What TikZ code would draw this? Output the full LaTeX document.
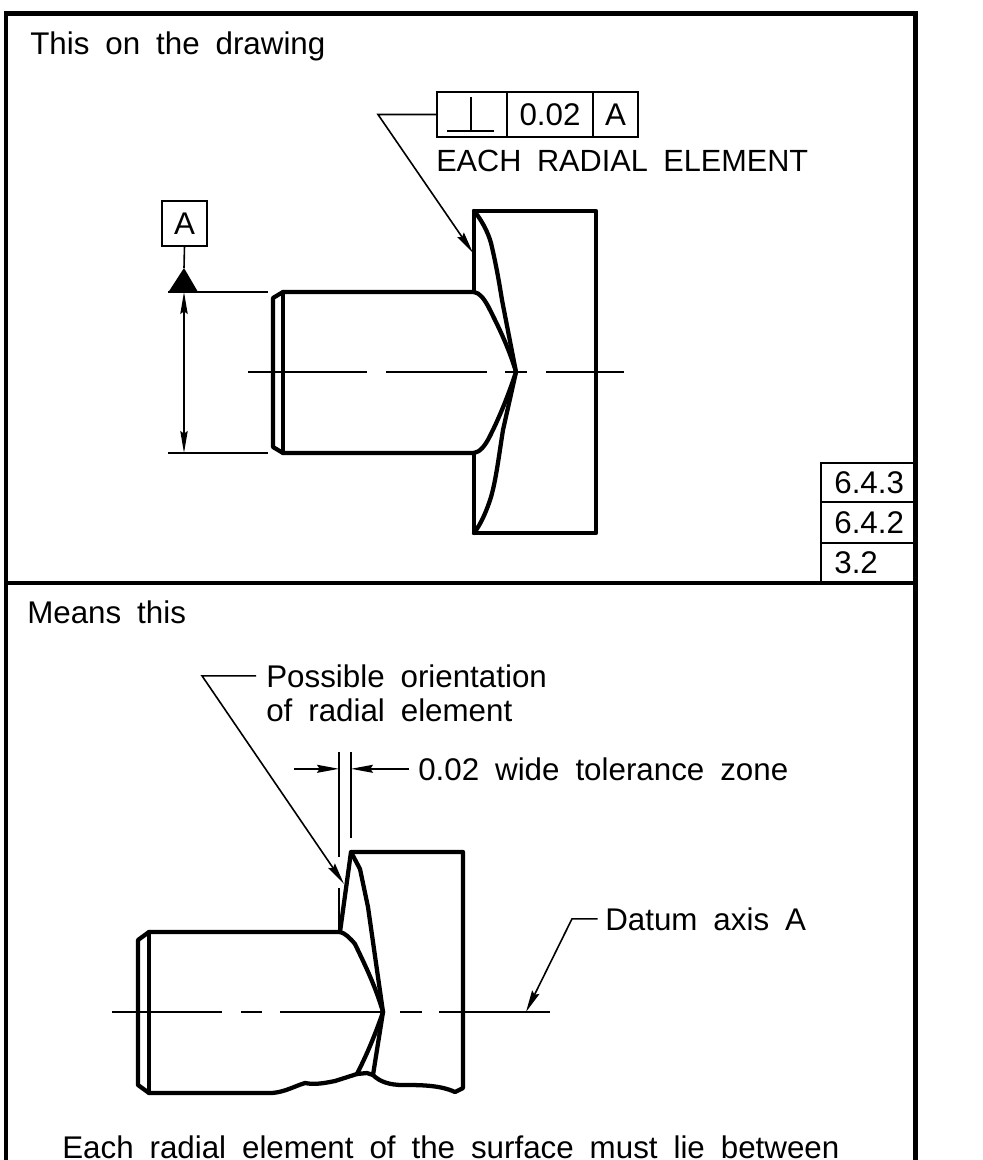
\documentclass[tikz,border=0pt]{standalone}
\usepackage{fontspec}
\setmainfont[WordSpace=1.83]{Liberation Sans}
\usetikzlibrary{arrows.meta}
\tikzset{
  heavy/.style={line width=3.2pt,line join=round,line cap=round},
  thin/.style={line width=1.2pt},
  tip/.style={-{Stealth[length=16.5pt,width=6pt,inset=2pt]}},
  cell/.style={draw,line width=1.2pt,inner sep=0pt,outer sep=0pt,minimum height=33.75pt,font=\fontsize{23.5pt}{27pt}\selectfont},
  txt/.style={anchor=base west,inner sep=0pt,font=\fontsize{23.5pt}{27pt}\selectfont},
  tab/.style={draw,line width=1.2pt,anchor=north west,inner sep=0pt,outer sep=0pt,text width=70.5pt,align=left,font=\fontsize{23.5pt}{27pt}\selectfont}
}
\begin{document}
\begin{tikzpicture}[x=0.75pt,y=-0.75pt]
\useasboundingbox (0,0) rectangle (982,1160);
% table (under the frame)
\node[tab,minimum height=29.25pt] (r1) at (821,463) {\hspace*{10pt}6.4.3};
\node[tab,minimum height=30.75pt] (r2) at (r1.south west) {\hspace*{10pt}6.4.2};
\node[tab,minimum height=30pt] (r3) at (r2.south west) {\hspace*{10pt}3.2};
% frame
\draw[line width=3.2pt] (6,1160) -- (6,13.5) -- (915.5,13.5) -- (915.5,1160);
\draw[line width=3.2pt] (6,583) -- (915.5,583);
% texts
\node[txt] (t1) at (30,54) {This on the drawing};
\node[txt] (t2) at (27,623) {Means this};
\node[txt,font=\fontsize{23pt}{27pt}\selectfont] (each) at (436,171) {EACH RADIAL ELEMENT};
\node[txt] (poss) at (266,687) {Possible orientation};
\node[txt] (ofrad) at (266,721) {of radial element};
\node[txt] (wide) at (418,780) {0.02 wide tolerance zone};
\node[txt] (datum) at (605,930) {Datum axis A};
\node[txt] (bot) at (62,1158.5) {Each radial element of the surface must lie between};
% feature control frame
\node[cell,minimum width=52.5pt,anchor=north west] (fa) at (437,92) {};
\node[cell,minimum width=64.5pt,anchor=north west] (fb) at (fa.north east) {0.02};
\node[cell,minimum width=33.75pt,anchor=north west] (fc) at (fb.north east) {A};
\draw[line width=1.2pt] (447,131) -- (494,131) (471,131) -- (471,97);
\coordinate (k1) at (378,114.5);
\coordinate (tip1) at (473,253);
\draw[thin,tip] (fa.west) -- (k1) -- (tip1);
% datum feature
\node[cell,minimum width=33.75pt] (dA) at (184.5,223.5) {A};
\coordinate (apex) at (184,268);
\draw[thin] (dA.south) -- (apex);
\fill (apex) -- (198,292) -- (168.5,292) -- cycle;
% extensions and dimension
\coordinate (e1a) at (168,292); \coordinate (e1b) at (268,292);
\coordinate (e2a) at (168,453); \coordinate (e2b) at (268,453);
\draw[thin] (e1a) -- (e1b) (e2a) -- (e2b);
\coordinate (d1) at (184,292); \coordinate (d2) at (184,453);
\draw[thin,{Stealth[length=16.5pt,width=5.5pt,inset=2pt]}-{Stealth[length=16.5pt,width=5.5pt,inset=2pt]}] (d1) -- (d2);
% top part
\draw[heavy] (474,292) -- (474,211) -- (596,211) -- (596,533) -- (474,533) -- (474,453);
\draw[heavy] (474,292) -- (283,292) -- (273,298) -- (273,447) -- (283,453) -- (474,453);
\draw[heavy] (283,292) -- (283,453);
\draw[heavy] (474,292) .. controls (480,293) and (484,299) .. (488,306) .. controls (496,322) and (508,345) .. (516,372)
 .. controls (510,390) and (502,412) .. (490,436) .. controls (485,446) and (480,452) .. (474,453);
\draw[heavy] (474,211) .. controls (481,219) and (488,232) .. (491,243) .. controls (495,260) and (498,275) .. (502,300) -- (516,372) -- (503,430) .. controls (499,455) and (496,480) .. (491,497) .. controls (487,510) and (481,524) .. (474,533);
% centre line top
\draw[thin] (248,372) -- (367,372) (386,372) -- (487,372) (505,372) -- (527,372) (546,372) -- (624,372);
% lower leader
\coordinate (k2x) at (202,676);
\coordinate (k2) at (k2x |- poss.west);
\coordinate (tip2) at (344,884);
\draw[thin,tip] ([xshift=-7.5pt]poss.west) -- (k2) -- (tip2);
% tolerance zone
\coordinate (za) at (339,752); \coordinate (zb) at (339,857);
\coordinate (zc) at (351,752); \coordinate (zd) at (351,838);
\coordinate (ze) at (339,888); \coordinate (zf) at (339,932);
\draw[thin] (za) -- (zb) (zc) -- (zd) (ze) -- (zf);
\coordinate (l0x) at (294,768);
\coordinate (l0) at (l0x |- wide.west);
\coordinate (l1) at (za |- wide.west);
\coordinate (r1c) at (zc |- wide.west);
\draw[thin,tip] (l0) -- (l1);
\draw[thin,tip] ([xshift=-7pt]wide.west) -- (r1c);
% lower part
\draw[heavy] (340,932) -- (149,932) -- (138,940) -- (138,1085) -- (149,1093) -- (272,1093)
  .. controls (285,1092) and (295,1086) .. (305,1083) .. controls (315,1085) and (325,1083) .. (335,1081) -- (357,1074)
  -- (367,1073) -- (373,1075) .. controls (380,1082) and (390,1085) .. (403,1085) .. controls (420,1085) and (440,1085) .. (455,1092) -- (463,1088) -- (463,852) -- (351,852) -- cycle;
\draw[heavy] (149,932) -- (149,1093);
\draw[heavy] (340,932) .. controls (345,933) and (350,938) .. (355,944) .. controls (365,965) and (375,985) .. (383,1012)
 .. controls (375,1035) and (368,1052) .. (357,1074);
\draw[heavy] (351,852) -- (360,869) -- (368,907) -- (383,1012) -- (373,1075);
% centre line bottom
\draw[thin] (112,1012) -- (222,1012) (241,1012) -- (262,1012) (280,1012) -- (383,1012) (400,1012) -- (422,1012) (439,1012) -- (550,1012);
% datum leader
\coordinate (k3x) at (572,918);
\coordinate (k3) at (k3x |- datum.west);
\coordinate (tip3) at (526,1012);
\draw[thin,tip] ([xshift=-5.5pt]datum.west) -- (k3) -- (tip3);
\end{tikzpicture}
\end{document}
